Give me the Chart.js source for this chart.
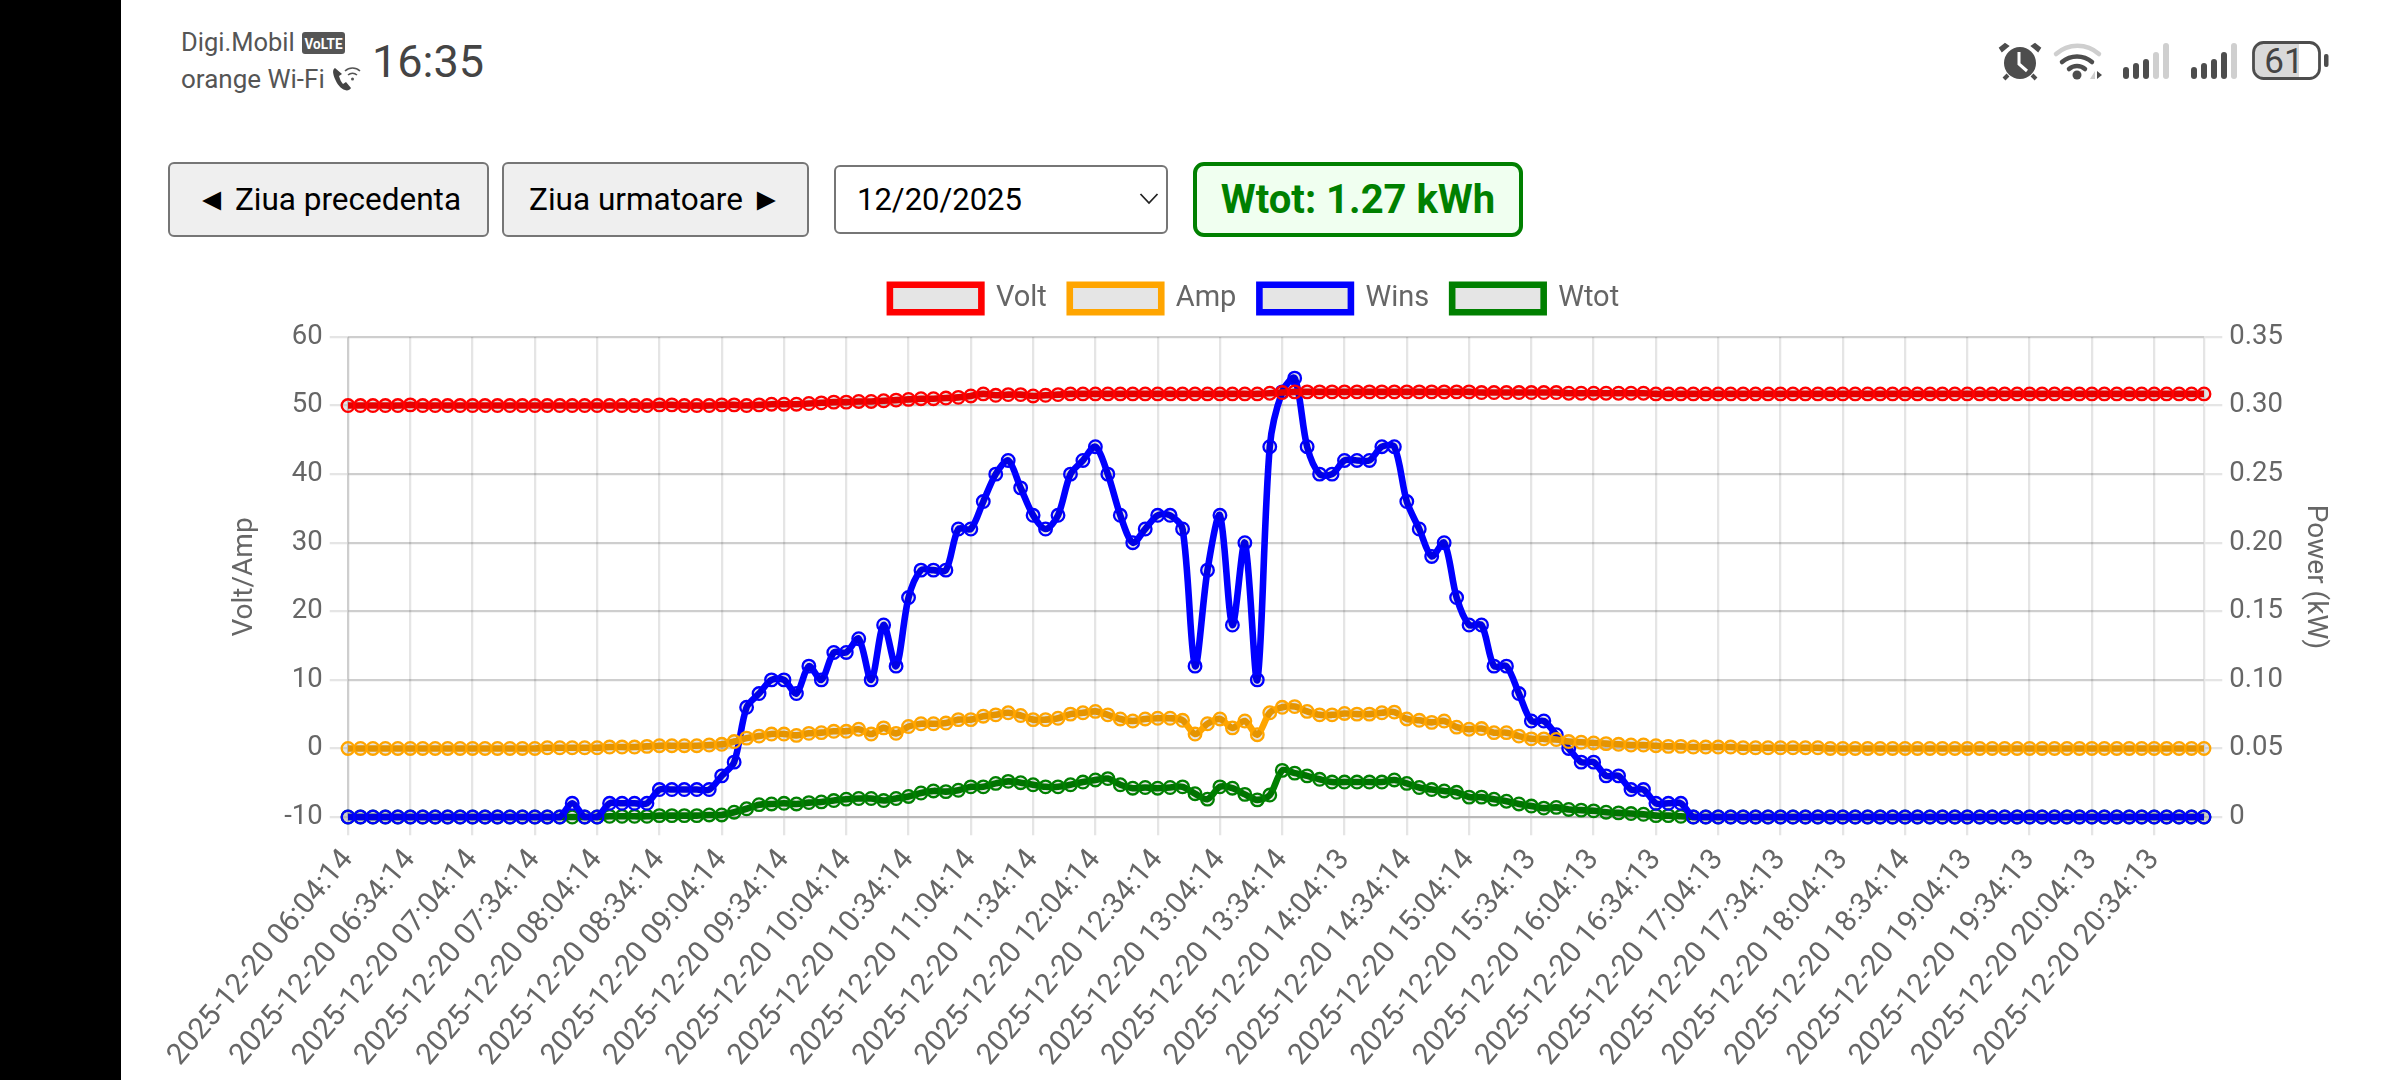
<!DOCTYPE html>
<html>
<head>
<meta charset="utf-8">
<script src="https://cdn.jsdelivr.net/npm/chart.js@4"></script>
<style>
html,body{margin:0;padding:0;background:#fff;width:2388px;height:1080px;overflow:hidden;font-family:Roboto,sans-serif}
.abs{position:absolute}
#bar{left:0;top:0;width:121px;height:1080px;background:#000}
.st{color:#555;font-size:25.5px;white-space:nowrap;line-height:1}
.btn{box-sizing:border-box;background:#efefef;border:2.5px solid #767676;border-radius:6px;color:#000;font-size:31.5px;display:flex;align-items:center;justify-content:center;white-space:nowrap;height:75px;top:162px}
#date{box-sizing:border-box;left:834px;top:165px;width:334px;height:69px;border:2.5px solid #767676;border-radius:6px;background:#fff;color:#000;font-size:31px;padding-left:21px;display:flex;align-items:center}
#wtot{box-sizing:border-box;left:1193px;top:162px;width:330px;height:75px;border:4px solid #008000;border-radius:11px;background:#f0fff0;color:#008000;font-size:40px;font-weight:700;display:flex;align-items:center;justify-content:center;white-space:nowrap}
#wrap{left:121px;top:261px;width:2267px;height:819px}
#icons{left:0;top:0}
</style>
</head>
<body>
<div class="abs" id="bar"></div>
<div class="abs st" style="left:181px;top:30px">Digi.Mobil</div>
<div class="abs st" style="left:181px;top:66px;font-size:26px">orange Wi-Fi</div>
<div class="abs" style="left:372px;top:37px;color:#444;font-size:45px;line-height:1.1">16:35</div>
<svg class="abs" id="icons" width="2388" height="120" xmlns="http://www.w3.org/2000/svg">
  <rect x="302" y="32" width="43" height="22" rx="3" fill="#555"/>
  <text x="323.5" y="49" font-size="15" font-weight="700" fill="#fff" text-anchor="middle" font-family="Roboto" textLength="38" lengthAdjust="spacingAndGlyphs">VoLTE</text>
  <path d="M335 68c-3 2-2 6 0 11s6 10 10 11c2 1 5 0 6-2l-5-6-3 2c-2-2-3-5-4-8l3-2z" fill="#444"/>
  <path d="M345 71a11 11 0 0 1 15 0M348 75a7 7 0 0 1 9 0" fill="none" stroke="#555" stroke-width="1.6"/>
  <circle cx="352.500" cy="79" r="1.500" fill="#555"/>
  <g fill="#4d4d4d">
    <circle cx="2020" cy="63" r="16"/>
    <path d="M2005 44l-5 4 2 3 6-5zM2035 44l5 4-2 3-6-5z" stroke="#4d4d4d" stroke-width="2"/>
    <path d="M2008 75l-4 4M2032 75l4 4" stroke="#4d4d4d" stroke-width="4"/>
  </g>
  <path d="M2019 52v12l8 7" fill="none" stroke="#fff" stroke-width="3"/>
  <path d="M2056 54a32 32 0 0 1 43 0" fill="none" stroke="#cfcfcf" stroke-width="4.500" stroke-linecap="round"/>
  <path d="M2062 62a23 23 0 0 1 30 0M2069 69a12 12 0 0 1 16 0" fill="none" stroke="#4d4d4d" stroke-width="4.500" stroke-linecap="round"/>
  <circle cx="2077" cy="75" r="4.500" fill="#4d4d4d"/>
  <path d="M2097 71l5 4-5 4z" fill="#4d4d4d"/><path d="M2095 71l-5 8h5z" fill="#cfcfcf"/>
  <g fill="#4d4d4d">
    <rect x="2123" y="67" width="6" height="12" rx="3"/><rect x="2133" y="63" width="6" height="16" rx="3"/><rect x="2143" y="59" width="6" height="20" rx="3"/>
    <rect x="2191" y="67" width="6" height="12" rx="3"/><rect x="2201" y="63" width="6" height="16" rx="3"/><rect x="2211" y="59" width="6" height="20" rx="3"/><rect x="2221" y="52" width="6" height="27" rx="3"/>
  </g>
  <g fill="#cfcfcf">
    <rect x="2153" y="52" width="6" height="27" rx="3"/><rect x="2163" y="43" width="6" height="36" rx="3"/>
    <rect x="2231" y="43" width="6" height="36" rx="3"/>
  </g>
  <path d="M2263 43.500h36v34h-36a9 9 0 0 1-9-9v-16a9 9 0 0 1 9-9z" fill="#d9d9d9"/>
  <rect x="2253.500" y="42.500" width="66" height="36" rx="10" fill="none" stroke="#4d4d4d" stroke-width="2.800"/>
  <rect x="2324" y="54" width="4.500" height="13" rx="2" fill="#4d4d4d"/>
  <text x="2284" y="73" font-size="35" fill="#444" text-anchor="middle" font-family="Roboto">61</text>
</svg>
<div class="abs btn" style="left:168px;width:321px">◄ Ziua precedenta</div>
<div class="abs btn" style="left:502px;width:307px">Ziua urmatoare ►</div>
<div class="abs" id="date">12/20/2025</div>
<svg class="abs" style="left:1139px;top:192px" width="20" height="14"><path d="M1.500 2l8.500 9 8.500-9" fill="none" stroke="#222" stroke-width="1.800"/></svg>
<div class="abs" id="wtot">Wtot: 1.27 kWh</div>
<div class="abs" id="wrap"><canvas id="c" width="2267" height="819" style="width:2267px;height:819px"></canvas></div>
<script>
const datePrefix = "2025-12-20 ";
const tickTimes = ["06:04:14","06:34:14","07:04:14","07:34:14","08:04:14","08:34:14","09:04:14","09:34:14","10:04:14","10:34:14",
"11:04:14","11:34:14","12:04:14","12:34:14","13:04:14","13:34:14","14:04:13","14:34:14","15:04:14","15:34:13",
"16:04:13","16:34:13","17:04:13","17:34:13","18:04:13","18:34:14","19:04:13","19:34:13","20:04:13","20:34:13"];
const volt = [50,50,50,50,50,50.1,50,50,50,50,
50,50,50,50,50,50,50,50,50,50,
50,50,50,50,50,50.1,50.1,50,50,50,
50.1,50.1,50,50.1,50.2,50.2,50.2,50.3,50.4,50.5,
50.5,50.6,50.6,50.7,50.8,50.9,51,51,51.1,51.2,
51.4,51.7,51.5,51.6,51.6,51.4,51.5,51.6,51.7,51.7,
51.7,51.7,51.7,51.7,51.7,51.7,51.7,51.7,51.7,51.7,
51.7,51.7,51.7,51.7,51.8,51.9,52,52,52,52,
52,52,52,52,52,52,52,52,52,52,
52,51.9,51.9,51.9,51.9,51.9,51.9,51.9,51.8,51.8,
51.8,51.8,51.8,51.8,51.8,51.7,51.7,51.7,51.7,51.7,
51.7,51.7,51.7,51.7,51.7,51.7,51.7,51.7,51.7,51.7,
51.7,51.7,51.7,51.7,51.7,51.7,51.7,51.7,51.7,51.7,
51.7,51.7,51.7,51.7,51.7,51.7,51.7,51.7,51.7,51.7,
51.7,51.7,51.7,51.7,51.7,51.7,51.7,51.7,51.7,51.7];
const amp = [0,0,0,0,0,0,0,0,0,0,
0,0,0,0,0,0,0.1,0.1,0.1,0.1,
0.1,0.2,0.2,0.2,0.3,0.4,0.4,0.4,0.4,0.5,
0.6,1,1.5,1.8,2.1,2.1,1.9,2.2,2.3,2.5,
2.5,2.8,2.1,3,2.2,3.2,3.6,3.6,3.7,4.2,
4.2,4.7,4.9,5.2,4.8,4.2,4.2,4.4,5,5.2,
5.4,4.9,4.3,4,4.3,4.4,4.4,4.1,2.1,3.6,
4.3,3,4,2,5.2,6,6.1,5.4,4.9,4.9,
5.1,5,5,5.2,5.3,4.3,4.1,3.8,4,3.1,
2.8,2.9,2.3,2.3,1.8,1.4,1.4,1.3,1,0.9,
0.8,0.7,0.6,0.5,0.5,0.4,0.3,0.3,0.2,0.2,
0.2,0.2,0.1,0.1,0.1,0.1,0.1,0.1,0.1,0,
0,0,0,0,0,0,0,0,0,0,
0,0,0,0,0,0,0,0,0,0,
0,0,0,0,0,0,0,0,0,0];
const wins = [0,0,0,0,0,0,0,0,0,0,
0,0,0,0,0,0,0,0,0.01,0,
0,0.01,0.01,0.01,0.01,0.02,0.02,0.02,0.02,0.02,
0.03,0.04,0.08,0.09,0.10,0.10,0.09,0.11,0.10,0.12,
0.12,0.13,0.10,0.14,0.11,0.16,0.18,0.18,0.18,0.21,
0.21,0.23,0.25,0.26,0.24,0.22,0.21,0.22,0.25,0.26,
0.27,0.25,0.22,0.20,0.21,0.22,0.22,0.21,0.11,0.18,
0.22,0.14,0.20,0.10,0.27,0.31,0.32,0.27,0.25,0.25,
0.26,0.26,0.26,0.27,0.27,0.23,0.21,0.19,0.20,0.16,
0.14,0.14,0.11,0.11,0.09,0.07,0.07,0.06,0.05,0.04,
0.04,0.03,0.03,0.02,0.02,0.01,0.01,0.01,0,0,
0,0,0,0,0,0,0,0,0,0,
0,0,0,0,0,0,0,0,0,0,
0,0,0,0,0,0,0,0,0,0,
0,0,0,0,0,0,0,0,0,0];
const wtot = [0,0,0,0,0,0,0,0,0,0,
0,0,0,0,0,0,0,0,0,0,
0,0.0005,0.0005,0.0005,0.0005,0.001,0.001,0.001,0.001,0.0015,
0.0015,0.0035,0.006,0.009,0.0095,0.01,0.0095,0.0105,0.011,0.012,
0.013,0.0135,0.0135,0.012,0.0135,0.015,0.0175,0.019,0.0185,0.0195,
0.022,0.022,0.0245,0.026,0.025,0.0235,0.022,0.022,0.0235,0.0255,
0.027,0.028,0.0235,0.021,0.0215,0.021,0.0215,0.022,0.017,0.013,
0.022,0.021,0.0165,0.0125,0.016,0.034,0.032,0.03,0.0275,0.0255,
0.0255,0.0255,0.0255,0.0255,0.027,0.0245,0.0215,0.02,0.019,0.018,
0.0145,0.0145,0.013,0.0115,0.0095,0.008,0.0065,0.007,0.0055,0.005,
0.0045,0.0035,0.003,0.0025,0.002,0.001,0.001,0.0005,0,0,
0,0,0,0,0,0,0,0,0,0,
0,0,0,0,0,0,0,0,0,0,
0,0,0,0,0,0,0,0,0,0,
0,0,0,0,0,0,0,0,0,0];
const categories = volt.map((_, i) => i % 5 === 0 ? datePrefix + tickTimes[i / 5] : "");

const G = 2.29;
Chart.defaults.font.family = "Roboto";
Chart.defaults.font.size = 27.5;
Chart.defaults.color = "#666";
const mk = (label, data, color, axis) => ({label, data, borderColor: color, yAxisID: axis,
  backgroundColor: "rgba(0,0,0,0.1)", borderWidth: 6.6, tension: 0.3, clip: false,
  pointRadius: 6.3, pointBorderWidth: 2.3, pointBackgroundColor: "rgba(0,0,0,0.1)", pointBorderColor: color});
const gridOpt = {lineWidth: G, tickLength: 18.3, color: "rgba(0,0,0,0.1)"};
const legendGap = {id: "legendGap", beforeInit(c) {
  const fit = c.legend.fit;
  c.legend.fit = function () { fit.call(this); this.height += 14; };
}};
const chart = new Chart(document.getElementById("c"), {
  type: "line",
  plugins: [legendGap],
  data: {labels: categories, datasets: [
    mk("Volt", volt, "red", "y"),
    mk("Amp", amp, "orange", "y"),
    mk("Wins", wins, "blue", "y1"),
    mk("Wtot", wtot, "green", "y1")
  ]},
  options: {
    responsive: false, animation: false, devicePixelRatio: 1,
    layout: {padding: 0},
    plugins: {
      tooltip: {enabled: false},
      legend: {labels: {boxWidth: 91.500, boxHeight: 27.500, padding: 23, font: {size: 29}}}
    },
    scales: {
      x: {
        grid: gridOpt, border: {width: G},
        ticks: {autoSkip: false, minRotation: 50, maxRotation: 50, padding: 8, font: {size: 29.5},
          callback(v, i) { const s = this.getLabelForValue(v); return s === "" ? null : s; }},
        afterFit(s) { s.height = 263; s.paddingLeft = 0; s.paddingRight = 0; }
      },
      y: {
        position: "left", min: -10, max: 60,
        grid: gridOpt, border: {width: G},
        ticks: {stepSize: 10, padding: 7},
        title: {display: true, text: "Volt/Amp", font: {size: 28}, padding: {top: 107, bottom: 0}},
        afterFit(s) { s.width = 227; }
      },
      y1: {
        position: "right", min: 0, max: 0.35,
        grid: gridOpt, border: {width: G},
        ticks: {stepSize: 0.05, padding: 7},
        title: {display: true, text: "Power (kW)", font: {size: 28}, padding: {top: 56, bottom: 0}},
        afterFit(s) { s.width = 184; }
      }
    }
  }
});
</script>
</body>
</html>
